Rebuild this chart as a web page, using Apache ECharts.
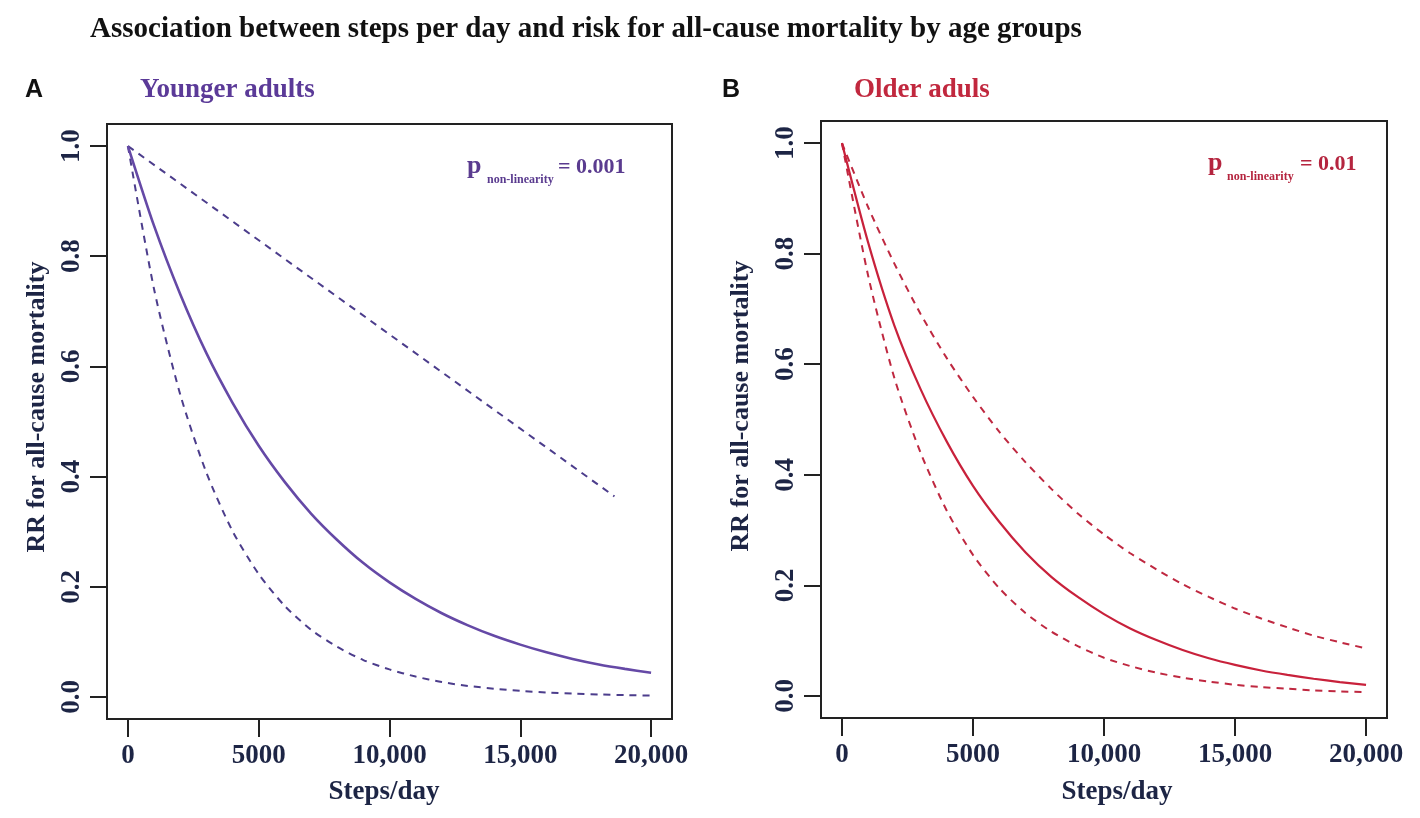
<!DOCTYPE html>
<html>
<head>
<meta charset="utf-8">
<script src="https://cdn.jsdelivr.net/npm/echarts@6/dist/echarts.min.js"></script>
<style>
html,body{margin:0;padding:0;background:#fff;}
#chart{width:1420px;height:818px;}
</style>
</head>
<body>
<div id="chart"></div>
<script>
// ---- data ----
const steps = [0,1000,2000,3000,4000,5000,6000,7000,8000,9000,10000,11000,12000,13000,14000,15000,16000,17000,18000,19000,20000];
const youngRR    = [1.0,0.855,0.731,0.624,0.534,0.456,0.39,0.333,0.285,0.243,0.208,0.178,0.152,0.130,0.111,0.095,0.081,0.069,0.059,0.051,0.044];
const youngLower = [1.0,0.74,0.549,0.407,0.301,0.223,0.165,0.122,0.091,0.067,0.05,0.037,0.027,0.02,0.015,0.011,0.008,0.006,0.0045,0.0033,0.0025];
const youngUpperSteps = [0,9300,18600];
const youngUpper      = [1.0,0.682,0.364];
const olderRR    = [1.0,0.82,0.67,0.555,0.46,0.38,0.315,0.26,0.215,0.179,0.148,0.122,0.101,0.083,0.068,0.056,0.046,0.038,0.031,0.025,0.02];
const olderLower = [1.0,0.76,0.575,0.44,0.335,0.255,0.195,0.15,0.116,0.09,0.069,0.054,0.042,0.033,0.026,0.02,0.016,0.013,0.01,0.008,0.007];
const olderUpper = [1.0,0.884,0.782,0.691,0.611,0.541,0.478,0.423,0.374,0.33,0.292,0.258,0.229,0.202,0.179,0.158,0.14,0.124,0.109,0.097,0.086];
const xTicks = [0,5000,10000,15000,20000];
const xTickLabels = ['0','5000','10,000','15,000','20,000'];
const yTicks = [0,0.2,0.4,0.6,0.8,1.0];
const yTickLabels = ['0.0','0.2','0.4','0.6','0.8','1.0'];

const titleText = 'Association between steps per day and risk for all-cause mortality by age groups';
const panelLetters = ['A','B'];
const panelTitles = ['Younger adults','Older aduls'];
const pValues = ['= 0.001','= 0.01'];
const xName = 'Steps/day';
const yName = 'RR for all-cause mortality';

// ---- styles ----
const SERIF = '"Liberation Serif","DejaVu Serif",serif';
const NAVY = '#1d2545';
const PURPLE = '#6549a6';
const PURPLE_D = '#4c3d8c';
const RED = '#c8213b';
const RED_D = '#bf2840';

function pairs(xs, ys){ return xs.map((x,i)=>[x, ys[i]]); }

function xAxis(gi){
  return {
    gridIndex: gi, type:'value', min:-800, max:20800,
    axisLine:{show:false, onZero:false},
    splitLine:{show:false},
    axisTick:{show:true, inside:false, customValues:xTicks, length:18, lineStyle:{color:'#222', width:2}},
    axisLabel:{customValues:xTicks, margin:24, color:NAVY, fontFamily:SERIF, fontWeight:'bold', fontSize:27,
      formatter:(v)=>xTickLabels[xTicks.indexOf(v)] }
  };
}
function yAxis(gi){
  return {
    gridIndex: gi, type:'value', min:-0.04, max:1.04,
    axisLine:{show:false, onZero:false},
    splitLine:{show:false},
    axisTick:{show:true, inside:false, customValues:yTicks, length:17, lineStyle:{color:'#222', width:2}},
    axisLabel:{customValues:yTicks, rotate:90, margin:21, color:NAVY, fontFamily:SERIF, fontWeight:'bold', fontSize:27,
      formatter:(v)=>{ const i = yTicks.findIndex(t=>Math.abs(t-v)<1e-9); return yTickLabels[i]; } }
  };
}
function line(xi, data, color, dashed, width){
  return {
    type:'line', xAxisIndex:xi, yAxisIndex:xi, data:data, showSymbol:false, smooth:0.25,
    lineStyle:{color:color, width:width, type: dashed ? [7,6] : 'solid'}, silent:true, animation:false
  };
}

const chart = echarts.init(document.getElementById('chart'), null, {renderer:'canvas'});
const option = {
  backgroundColor:'#fff',
  animation:false,
  grid:[
    {left:107, top:124, width:565, height:595, show:true, borderColor:'#222', borderWidth:2, backgroundColor:'transparent'},
    {left:821, top:121, width:566, height:597, show:true, borderColor:'#222', borderWidth:2, backgroundColor:'transparent'}
  ],
  xAxis:[xAxis(0), xAxis(1)],
  yAxis:[yAxis(0), yAxis(1)],
  series:[
    Object.assign(line(0, pairs(youngUpperSteps, youngUpper), PURPLE_D, true, 2), {smooth:false}),
    line(0, pairs(steps, youngLower), PURPLE_D, true, 2),
    line(0, pairs(steps, youngRR), PURPLE, false, 2.6),
    line(1, pairs(steps, olderUpper), RED_D, true, 2),
    line(1, pairs(steps, olderLower), RED_D, true, 2),
    line(1, pairs(steps, olderRR), RED, false, 2.2)
  ],
  graphic:[
    {type:'text', left:90, top:15, style:{text:titleText, fill:'#111', font:'bold 29px '+SERIF}},
    {type:'text', left:25, top:78, style:{text:panelLetters[0], fill:'#111', font:'bold 25px "Liberation Sans",Arial,sans-serif'}},
    {type:'text', left:722, top:78, style:{text:panelLetters[1], fill:'#111', font:'bold 25px "Liberation Sans",Arial,sans-serif'}},
    {type:'text', left:140, top:77, style:{text:panelTitles[0], fill:'#5b3a98', font:'bold 27px '+SERIF}},
    {type:'text', left:854, top:77, style:{text:panelTitles[1], fill:'#c1283e', font:'bold 27px '+SERIF}},
    // p annotations A
    {type:'text', x:467, y:166, style:{text:'p', fill:'#5a3b8f', font:'bold 26px '+SERIF, verticalAlign:'middle'}},
    {type:'text', x:487, y:180, style:{text:'non-linearity', fill:'#5a3b8f', font:'bold 12px '+SERIF, verticalAlign:'middle'}},
    {type:'text', x:558, y:167, style:{text:pValues[0], fill:'#5a3b8f', font:'bold 22px '+SERIF, verticalAlign:'middle'}},
    // p annotations B
    {type:'text', x:1208, y:163, style:{text:'p', fill:'#b5253f', font:'bold 26px '+SERIF, verticalAlign:'middle'}},
    {type:'text', x:1227, y:177, style:{text:'non-linearity', fill:'#b5253f', font:'bold 12px '+SERIF, verticalAlign:'middle'}},
    {type:'text', x:1300, y:164, style:{text:pValues[1], fill:'#b5253f', font:'bold 22px '+SERIF, verticalAlign:'middle'}},
    // axis names
    {type:'text', x:384, y:792, style:{text:xName, fill:NAVY, font:'bold 27px '+SERIF, align:'center', verticalAlign:'middle'}},
    {type:'text', x:1117, y:792, style:{text:xName, fill:NAVY, font:'bold 27px '+SERIF, align:'center', verticalAlign:'middle'}},
    {type:'text', x:37, y:407, rotation:Math.PI/2, style:{text:yName, fill:NAVY, font:'bold 26px '+SERIF, align:'center', verticalAlign:'middle'}},
    {type:'text', x:741, y:406, rotation:Math.PI/2, style:{text:yName, fill:NAVY, font:'bold 26px '+SERIF, align:'center', verticalAlign:'middle'}}
  ]
};
chart.setOption(option);
</script>
</body>
</html>
